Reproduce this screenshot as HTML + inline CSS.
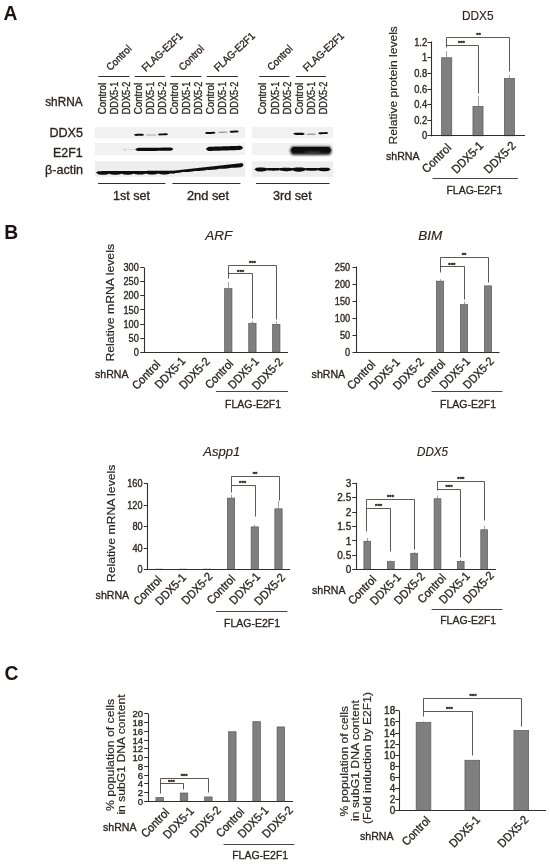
<!DOCTYPE html>
<html lang="en">
<head>
<meta charset="utf-8">
<title>Figure</title>
<style>
html,body{margin:0;padding:0;background:#fff;}
body{width:550px;height:865px;overflow:hidden;}
text{stroke:#2b2522;stroke-width:.34px;}
svg{display:block;font-family:"Liberation Sans",sans-serif;}
</style>
</head>
<body>
<svg width="550" height="865" viewBox="0 0 550 865">
<defs>
<filter id="b1" filterUnits="userSpaceOnUse" x="80" y="110" width="270" height="80"><feGaussianBlur stdDeviation="0.55"/></filter>
<filter id="b2" filterUnits="userSpaceOnUse" x="80" y="110" width="270" height="80"><feGaussianBlur stdDeviation="1.0"/></filter>
<filter id="soft" x="-2%" y="-2%" width="104%" height="104%"><feGaussianBlur stdDeviation="0.4"/></filter>
</defs>
<rect x="0" y="0" width="550" height="865" fill="#ffffff"/>
<text transform="translate(3.60 19.90)" font-size="19.3" text-anchor="start" fill="#1c1212" font-weight="bold" style="stroke-width:0px">A</text>
<text transform="translate(4.20 239.00)" font-size="19.3" text-anchor="start" fill="#1c1212" font-weight="bold" style="stroke-width:0px">B</text>
<text transform="translate(4.60 679.90)" font-size="19.3" text-anchor="start" fill="#1c1212" font-weight="bold" style="stroke-width:0px">C</text>
<text transform="translate(82.60 105.50)" font-size="12.8" text-anchor="end" fill="#2b2522" textLength="37.4" lengthAdjust="spacingAndGlyphs">shRNA</text>
<text transform="translate(83.00 137.30)" font-size="13.2" text-anchor="end" fill="#2b2522" textLength="33.6" lengthAdjust="spacingAndGlyphs">DDX5</text>
<text transform="translate(82.60 156.90)" font-size="13.2" text-anchor="end" fill="#2b2522" textLength="29.6" lengthAdjust="spacingAndGlyphs">E2F1</text>
<text transform="translate(83.00 173.60)" font-size="13.2" text-anchor="end" fill="#2b2522" textLength="38" lengthAdjust="spacingAndGlyphs">β-actin</text>
<text transform="translate(105.50 114.30) rotate(-90)" font-size="10.3" text-anchor="start" fill="#2b2522" textLength="31.4" lengthAdjust="spacingAndGlyphs">Control</text>
<text transform="translate(117.55 114.30) rotate(-90)" font-size="10.3" text-anchor="start" fill="#2b2522" textLength="32.6" lengthAdjust="spacingAndGlyphs">DDX5-1</text>
<text transform="translate(129.60 114.30) rotate(-90)" font-size="10.3" text-anchor="start" fill="#2b2522" textLength="32.6" lengthAdjust="spacingAndGlyphs">DDX5-2</text>
<text transform="translate(141.65 114.30) rotate(-90)" font-size="10.3" text-anchor="start" fill="#2b2522" textLength="31.4" lengthAdjust="spacingAndGlyphs">Control</text>
<text transform="translate(153.70 114.30) rotate(-90)" font-size="10.3" text-anchor="start" fill="#2b2522" textLength="32.6" lengthAdjust="spacingAndGlyphs">DDX5-1</text>
<text transform="translate(165.75 114.30) rotate(-90)" font-size="10.3" text-anchor="start" fill="#2b2522" textLength="32.6" lengthAdjust="spacingAndGlyphs">DDX5-2</text>
<text transform="translate(177.80 114.30) rotate(-90)" font-size="10.3" text-anchor="start" fill="#2b2522" textLength="31.4" lengthAdjust="spacingAndGlyphs">Control</text>
<text transform="translate(189.85 114.30) rotate(-90)" font-size="10.3" text-anchor="start" fill="#2b2522" textLength="32.6" lengthAdjust="spacingAndGlyphs">DDX5-1</text>
<text transform="translate(201.90 114.30) rotate(-90)" font-size="10.3" text-anchor="start" fill="#2b2522" textLength="32.6" lengthAdjust="spacingAndGlyphs">DDX5-2</text>
<text transform="translate(213.95 114.30) rotate(-90)" font-size="10.3" text-anchor="start" fill="#2b2522" textLength="31.4" lengthAdjust="spacingAndGlyphs">Control</text>
<text transform="translate(226.00 114.30) rotate(-90)" font-size="10.3" text-anchor="start" fill="#2b2522" textLength="32.6" lengthAdjust="spacingAndGlyphs">DDX5-1</text>
<text transform="translate(238.05 114.30) rotate(-90)" font-size="10.3" text-anchor="start" fill="#2b2522" textLength="32.6" lengthAdjust="spacingAndGlyphs">DDX5-2</text>
<text transform="translate(266.40 114.30) rotate(-90)" font-size="10.3" text-anchor="start" fill="#2b2522" textLength="31.4" lengthAdjust="spacingAndGlyphs">Control</text>
<text transform="translate(278.50 114.30) rotate(-90)" font-size="10.3" text-anchor="start" fill="#2b2522" textLength="32.6" lengthAdjust="spacingAndGlyphs">DDX5-1</text>
<text transform="translate(290.60 114.30) rotate(-90)" font-size="10.3" text-anchor="start" fill="#2b2522" textLength="32.6" lengthAdjust="spacingAndGlyphs">DDX5-2</text>
<text transform="translate(302.70 114.30) rotate(-90)" font-size="10.3" text-anchor="start" fill="#2b2522" textLength="31.4" lengthAdjust="spacingAndGlyphs">Control</text>
<text transform="translate(314.80 114.30) rotate(-90)" font-size="10.3" text-anchor="start" fill="#2b2522" textLength="32.6" lengthAdjust="spacingAndGlyphs">DDX5-1</text>
<text transform="translate(326.90 114.30) rotate(-90)" font-size="10.3" text-anchor="start" fill="#2b2522" textLength="32.6" lengthAdjust="spacingAndGlyphs">DDX5-2</text>
<line x1="98.30" y1="76.50" x2="129.50" y2="76.50" stroke="#332e2c" stroke-width="1.0"/>
<text transform="translate(110.60 71.30) rotate(-45.5) scale(0.92 1)" font-size="10.4" text-anchor="start" fill="#2b2522">Control</text>
<line x1="134.70" y1="76.50" x2="165.10" y2="76.50" stroke="#332e2c" stroke-width="1.0"/>
<text transform="translate(145.80 72.00) rotate(-43) scale(0.93 1)" font-size="10.4" text-anchor="start" fill="#2b2522">FLAG-E2F1</text>
<line x1="170.80" y1="76.50" x2="201.50" y2="76.50" stroke="#332e2c" stroke-width="1.0"/>
<text transform="translate(183.10 71.30) rotate(-45.5) scale(0.92 1)" font-size="10.4" text-anchor="start" fill="#2b2522">Control</text>
<line x1="206.80" y1="76.50" x2="238.00" y2="76.50" stroke="#332e2c" stroke-width="1.0"/>
<text transform="translate(217.90 72.00) rotate(-43) scale(0.93 1)" font-size="10.4" text-anchor="start" fill="#2b2522">FLAG-E2F1</text>
<line x1="259.30" y1="76.50" x2="289.50" y2="76.50" stroke="#332e2c" stroke-width="1.0"/>
<text transform="translate(271.60 71.30) rotate(-45.5) scale(0.92 1)" font-size="10.4" text-anchor="start" fill="#2b2522">Control</text>
<line x1="295.90" y1="76.50" x2="326.00" y2="76.50" stroke="#332e2c" stroke-width="1.0"/>
<text transform="translate(307.00 72.00) rotate(-43) scale(0.93 1)" font-size="10.4" text-anchor="start" fill="#2b2522">FLAG-E2F1</text>
<g filter="url(#soft)">
<rect x="94.80" y="127.20" width="150.40" height="11.00" fill="#f1f1f1"/>
<rect x="94.80" y="142.80" width="150.40" height="12.20" fill="#f2f2f2"/>
<rect x="94.80" y="161.20" width="150.40" height="15.60" fill="#eeeeee"/>
<rect x="252.20" y="127.20" width="80.80" height="11.00" fill="#f1f1f1"/>
<rect x="252.20" y="142.80" width="80.80" height="12.20" fill="#f2f2f2"/>
<rect x="252.20" y="161.20" width="80.80" height="15.60" fill="#eeeeee"/>
</g>
<path d="M134.0 134.90 L134.4 134.44 L134.8 134.19 L135.2 134.01 L135.7 133.91 L136.1 133.88 L136.5 133.88 L136.9 133.87 L137.3 133.87 L137.8 133.86 L138.2 133.86 L138.6 133.85 L139.0 133.85 L139.4 133.85 L139.8 133.84 L140.2 133.84 L140.7 133.83 L141.1 133.83 L141.5 133.83 L141.9 133.82 L142.3 133.84 L142.8 133.93 L143.2 134.10 L143.6 134.35 L144.0 134.80 L144.0 134.80 L143.6 135.26 L143.2 135.51 L142.8 135.69 L142.3 135.79 L141.9 135.82 L141.5 135.83 L141.1 135.83 L140.7 135.83 L140.2 135.84 L139.8 135.84 L139.4 135.85 L139.0 135.85 L138.6 135.85 L138.2 135.86 L137.8 135.86 L137.3 135.87 L136.9 135.87 L136.5 135.88 L136.1 135.88 L135.7 135.86 L135.2 135.77 L134.8 135.60 L134.4 135.35 L134.0 134.90Z" fill="#111" filter="url(#b1)" opacity="1"/>
<path d="M145.5 135.00 L146.0 134.73 L146.5 134.58 L146.9 134.47 L147.4 134.41 L147.9 134.40 L148.4 134.40 L148.9 134.40 L149.3 134.40 L149.8 134.40 L150.3 134.40 L150.8 134.40 L151.2 134.40 L151.7 134.40 L152.2 134.40 L152.7 134.40 L153.2 134.40 L153.6 134.40 L154.1 134.40 L154.6 134.40 L155.1 134.41 L155.6 134.47 L156.0 134.58 L156.5 134.73 L157.0 135.00 L157.0 135.00 L156.5 135.27 L156.0 135.42 L155.6 135.53 L155.1 135.59 L154.6 135.60 L154.1 135.60 L153.6 135.60 L153.2 135.60 L152.7 135.60 L152.2 135.60 L151.7 135.60 L151.2 135.60 L150.8 135.60 L150.3 135.60 L149.8 135.60 L149.3 135.60 L148.9 135.60 L148.4 135.60 L147.9 135.60 L147.4 135.59 L146.9 135.53 L146.5 135.42 L146.0 135.27 L145.5 135.00Z" fill="#a8a8a8" filter="url(#b1)" opacity="1"/>
<path d="M158.0 134.50 L158.4 134.06 L158.8 133.80 L159.2 133.63 L159.7 133.52 L160.1 133.49 L160.5 133.48 L160.9 133.46 L161.3 133.45 L161.8 133.44 L162.2 133.43 L162.6 133.41 L163.0 133.40 L163.4 133.39 L163.8 133.38 L164.2 133.36 L164.7 133.35 L165.1 133.34 L165.5 133.32 L165.9 133.31 L166.3 133.32 L166.8 133.40 L167.2 133.55 L167.6 133.78 L168.0 134.20 L168.0 134.20 L167.6 134.64 L167.2 134.90 L166.8 135.07 L166.3 135.18 L165.9 135.21 L165.5 135.22 L165.1 135.24 L164.7 135.25 L164.2 135.26 L163.8 135.27 L163.4 135.29 L163.0 135.30 L162.6 135.31 L162.2 135.32 L161.8 135.34 L161.3 135.35 L160.9 135.36 L160.5 135.38 L160.1 135.39 L159.7 135.38 L159.2 135.30 L158.8 135.15 L158.4 134.92 L158.0 134.50Z" fill="#111" filter="url(#b1)" opacity="1"/>
<path d="M205.0 133.00 L205.4 132.54 L205.9 132.28 L206.3 132.10 L206.8 131.99 L207.2 131.96 L207.6 131.95 L208.1 131.94 L208.5 131.93 L208.9 131.93 L209.4 131.92 L209.8 131.91 L210.2 131.90 L210.7 131.89 L211.1 131.88 L211.6 131.88 L212.0 131.87 L212.4 131.86 L212.9 131.85 L213.3 131.84 L213.8 131.86 L214.2 131.95 L214.6 132.11 L215.1 132.36 L215.5 132.80 L215.5 132.80 L215.1 133.26 L214.6 133.52 L214.2 133.70 L213.8 133.81 L213.3 133.84 L212.9 133.85 L212.4 133.86 L212.0 133.87 L211.6 133.88 L211.1 133.88 L210.7 133.89 L210.2 133.90 L209.8 133.91 L209.4 133.92 L208.9 133.93 L208.5 133.93 L208.1 133.94 L207.6 133.95 L207.2 133.96 L206.8 133.94 L206.3 133.85 L205.9 133.69 L205.4 133.44 L205.0 133.00Z" fill="#111" filter="url(#b1)" opacity="1"/>
<path d="M218.0 132.40 L218.4 132.09 L218.8 131.92 L219.2 131.79 L219.6 131.72 L220.0 131.69 L220.4 131.67 L220.9 131.66 L221.3 131.65 L221.7 131.64 L222.1 131.62 L222.5 131.61 L222.9 131.60 L223.3 131.59 L223.7 131.57 L224.1 131.56 L224.5 131.55 L224.9 131.54 L225.4 131.53 L225.8 131.51 L226.2 131.52 L226.6 131.57 L227.0 131.67 L227.4 131.82 L227.8 132.10 L227.8 132.10 L227.4 132.41 L227.0 132.58 L226.6 132.71 L226.2 132.78 L225.8 132.81 L225.4 132.83 L224.9 132.84 L224.5 132.85 L224.1 132.86 L223.7 132.88 L223.3 132.89 L222.9 132.90 L222.5 132.91 L222.1 132.93 L221.7 132.94 L221.3 132.95 L220.9 132.96 L220.4 132.97 L220.0 132.99 L219.6 132.98 L219.2 132.93 L218.8 132.83 L218.4 132.68 L218.0 132.40Z" fill="#9a9a9a" filter="url(#b1)" opacity="1"/>
<path d="M229.6 131.80 L230.0 131.33 L230.4 131.06 L230.8 130.87 L231.1 130.76 L231.5 130.72 L231.9 130.70 L232.3 130.68 L232.7 130.67 L233.1 130.65 L233.4 130.63 L233.8 130.62 L234.2 130.60 L234.6 130.58 L235.0 130.57 L235.3 130.55 L235.7 130.53 L236.1 130.52 L236.5 130.50 L236.9 130.48 L237.3 130.49 L237.7 130.57 L238.0 130.73 L238.4 130.96 L238.8 131.40 L238.8 131.40 L238.4 131.87 L238.0 132.14 L237.7 132.33 L237.3 132.44 L236.9 132.48 L236.5 132.50 L236.1 132.52 L235.7 132.53 L235.3 132.55 L235.0 132.57 L234.6 132.58 L234.2 132.60 L233.8 132.62 L233.4 132.63 L233.1 132.65 L232.7 132.67 L232.3 132.68 L231.9 132.70 L231.5 132.72 L231.1 132.71 L230.8 132.63 L230.4 132.47 L230.0 132.24 L229.6 131.80Z" fill="#111" filter="url(#b1)" opacity="1"/>
<path d="M293.3 133.80 L293.8 133.33 L294.3 133.07 L294.7 132.89 L295.2 132.79 L295.7 132.77 L296.2 132.78 L296.7 132.78 L297.1 132.78 L297.6 132.79 L298.1 132.79 L298.6 132.80 L299.1 132.80 L299.5 132.80 L300.0 132.81 L300.5 132.81 L301.0 132.82 L301.4 132.82 L301.9 132.82 L302.4 132.83 L302.9 132.86 L303.4 132.96 L303.8 133.15 L304.3 133.42 L304.8 133.90 L304.8 133.90 L304.3 134.37 L303.8 134.63 L303.4 134.81 L302.9 134.91 L302.4 134.93 L301.9 134.93 L301.4 134.92 L301.0 134.92 L300.5 134.91 L300.0 134.91 L299.5 134.90 L299.1 134.90 L298.6 134.90 L298.1 134.89 L297.6 134.89 L297.1 134.88 L296.7 134.88 L296.2 134.88 L295.7 134.87 L295.2 134.84 L294.7 134.74 L294.3 134.55 L293.8 134.28 L293.3 133.80Z" fill="#111" filter="url(#b1)" opacity="1"/>
<path d="M306.0 134.30 L306.4 134.00 L306.9 133.83 L307.3 133.72 L307.7 133.65 L308.1 133.63 L308.6 133.62 L309.0 133.62 L309.4 133.62 L309.8 133.61 L310.2 133.61 L310.7 133.60 L311.1 133.60 L311.5 133.60 L311.9 133.59 L312.4 133.59 L312.8 133.58 L313.2 133.58 L313.6 133.57 L314.1 133.57 L314.5 133.58 L314.9 133.64 L315.3 133.75 L315.8 133.91 L316.2 134.20 L316.2 134.20 L315.8 134.50 L315.3 134.67 L314.9 134.78 L314.5 134.85 L314.1 134.87 L313.6 134.88 L313.2 134.88 L312.8 134.88 L312.4 134.89 L311.9 134.89 L311.5 134.90 L311.1 134.90 L310.7 134.90 L310.2 134.91 L309.8 134.91 L309.4 134.92 L309.0 134.92 L308.6 134.93 L308.1 134.93 L307.7 134.92 L307.3 134.86 L306.9 134.75 L306.4 134.59 L306.0 134.30Z" fill="#a0a0a0" filter="url(#b1)" opacity="1"/>
<path d="M318.2 133.30 L318.6 132.86 L319.0 132.60 L319.4 132.43 L319.9 132.32 L320.3 132.29 L320.7 132.28 L321.1 132.26 L321.5 132.25 L321.9 132.24 L322.4 132.23 L322.8 132.21 L323.2 132.20 L323.6 132.19 L324.0 132.18 L324.4 132.16 L324.9 132.15 L325.3 132.14 L325.7 132.12 L326.1 132.11 L326.5 132.12 L326.9 132.20 L327.4 132.35 L327.8 132.58 L328.2 133.00 L328.2 133.00 L327.8 133.44 L327.4 133.70 L326.9 133.87 L326.5 133.98 L326.1 134.01 L325.7 134.02 L325.3 134.04 L324.9 134.05 L324.4 134.06 L324.0 134.07 L323.6 134.09 L323.2 134.10 L322.8 134.11 L322.4 134.12 L321.9 134.14 L321.5 134.15 L321.1 134.16 L320.7 134.18 L320.3 134.19 L319.9 134.18 L319.4 134.10 L319.0 133.95 L318.6 133.72 L318.2 133.30Z" fill="#111" filter="url(#b1)" opacity="1"/>
<path d="M123.3 149.70 L123.4 149.41 L123.5 149.24 L123.7 149.13 L123.8 149.07 L123.9 149.05 L124.0 149.05 L124.2 149.05 L124.3 149.05 L124.4 149.05 L124.5 149.05 L124.7 149.05 L124.8 149.05 L124.9 149.05 L125.0 149.05 L125.2 149.05 L125.3 149.05 L125.4 149.05 L125.5 149.05 L125.7 149.05 L125.8 149.07 L125.9 149.13 L126.0 149.24 L126.2 149.41 L126.3 149.70 L126.3 149.70 L126.2 149.99 L126.0 150.16 L125.9 150.27 L125.8 150.33 L125.7 150.35 L125.5 150.35 L125.4 150.35 L125.3 150.35 L125.2 150.35 L125.0 150.35 L124.9 150.35 L124.8 150.35 L124.7 150.35 L124.5 150.35 L124.4 150.35 L124.3 150.35 L124.2 150.35 L124.0 150.35 L123.9 150.35 L123.8 150.33 L123.7 150.27 L123.5 150.16 L123.4 149.99 L123.3 149.70Z" fill="#c4c4c4" filter="url(#b1)" opacity="1"/>
<path d="M127.0 149.60 L127.4 149.39 L127.8 149.27 L128.2 149.19 L128.7 149.14 L129.1 149.13 L129.5 149.12 L129.9 149.12 L130.3 149.12 L130.8 149.11 L131.2 149.11 L131.6 149.10 L132.0 149.10 L132.4 149.10 L132.8 149.09 L133.2 149.09 L133.7 149.08 L134.1 149.08 L134.5 149.08 L134.9 149.07 L135.3 149.08 L135.8 149.12 L136.2 149.19 L136.6 149.30 L137.0 149.50 L137.0 149.50 L136.6 149.71 L136.2 149.83 L135.8 149.91 L135.3 149.96 L134.9 149.97 L134.5 149.97 L134.1 149.98 L133.7 149.98 L133.2 149.99 L132.8 149.99 L132.4 150.00 L132.0 150.00 L131.6 150.00 L131.2 150.01 L130.8 150.01 L130.3 150.02 L129.9 150.02 L129.5 150.02 L129.1 150.03 L128.7 150.02 L128.2 149.98 L127.8 149.91 L127.4 149.80 L127.0 149.60Z" fill="#d8d8d8" filter="url(#b1)" opacity="1"/>
<path d="M135.2 149.50 L136.8 148.20 L138.4 147.87 L140.0 147.85 L141.6 147.83 L143.2 147.82 L144.8 147.80 L146.3 147.78 L147.9 147.77 L149.5 147.75 L151.1 147.73 L152.7 147.72 L154.3 147.70 L155.9 147.68 L157.5 147.67 L159.1 147.65 L160.7 147.63 L162.3 147.62 L163.8 147.60 L165.4 147.58 L167.0 147.57 L168.6 147.55 L170.2 147.53 L171.8 147.83 L173.4 149.10 L173.4 149.10 L171.8 150.40 L170.2 150.73 L168.6 150.75 L167.0 150.77 L165.4 150.78 L163.8 150.80 L162.3 150.82 L160.7 150.83 L159.1 150.85 L157.5 150.87 L155.9 150.88 L154.3 150.90 L152.7 150.92 L151.1 150.93 L149.5 150.95 L147.9 150.97 L146.3 150.98 L144.8 151.00 L143.2 151.02 L141.6 151.03 L140.0 151.05 L138.4 151.07 L136.8 150.77 L135.2 149.50Z" fill="#111" filter="url(#b1)" opacity="1"/>
<path d="M205.8 149.00 L207.4 147.47 L208.9 146.85 L210.5 146.75 L212.0 146.70 L213.6 146.65 L215.2 146.60 L216.7 146.55 L218.3 146.50 L219.8 146.45 L221.4 146.40 L222.9 146.35 L224.5 146.30 L226.1 146.25 L227.6 146.20 L229.2 146.15 L230.7 146.10 L232.3 146.05 L233.8 146.00 L235.4 145.95 L237.0 145.90 L238.5 145.85 L240.1 145.85 L241.6 146.37 L243.2 147.80 L243.2 147.80 L241.6 149.33 L240.1 149.95 L238.5 150.05 L237.0 150.10 L235.4 150.15 L233.8 150.20 L232.3 150.25 L230.7 150.30 L229.2 150.35 L227.6 150.40 L226.1 150.45 L224.5 150.50 L222.9 150.55 L221.4 150.60 L219.8 150.65 L218.3 150.70 L216.7 150.75 L215.2 150.80 L213.6 150.85 L212.0 150.90 L210.5 150.95 L208.9 150.95 L207.4 150.43 L205.8 149.00Z" fill="#111" filter="url(#b1)" opacity="1"/>
<path d="M289.8 150.70 L291.6 146.84 L293.3 146.50 L295.1 146.50 L296.8 146.50 L298.6 146.50 L300.3 146.50 L302.1 146.50 L303.8 146.50 L305.6 146.50 L307.3 146.50 L309.1 146.50 L310.8 146.50 L312.6 146.50 L314.3 146.50 L316.1 146.50 L317.8 146.50 L319.6 146.50 L321.3 146.50 L323.1 146.50 L324.8 146.50 L326.6 146.50 L328.3 146.50 L330.1 146.84 L331.8 150.70 L331.8 150.70 L330.1 154.56 L328.3 154.90 L326.6 154.90 L324.8 154.90 L323.1 154.90 L321.3 154.90 L319.6 154.90 L317.8 154.90 L316.1 154.90 L314.3 154.90 L312.6 154.90 L310.8 154.90 L309.1 154.90 L307.3 154.90 L305.6 154.90 L303.8 154.90 L302.1 154.90 L300.3 154.90 L298.6 154.90 L296.8 154.90 L295.1 154.90 L293.3 154.90 L291.6 154.56 L289.8 150.70Z" fill="#222" filter="url(#b2)" opacity="1"/>
<path d="M291.0 149.90 L292.7 147.33 L294.3 147.10 L296.0 147.10 L297.7 147.10 L299.3 147.10 L301.0 147.10 L302.7 147.10 L304.3 147.10 L306.0 147.10 L307.7 147.10 L309.3 147.10 L311.0 147.10 L312.7 147.10 L314.3 147.10 L316.0 147.10 L317.7 147.10 L319.3 147.10 L321.0 147.10 L322.7 147.10 L324.3 147.10 L326.0 147.10 L327.7 147.10 L329.3 147.33 L331.0 149.90 L331.0 149.90 L329.3 152.47 L327.7 152.70 L326.0 152.70 L324.3 152.70 L322.7 152.70 L321.0 152.70 L319.3 152.70 L317.7 152.70 L316.0 152.70 L314.3 152.70 L312.7 152.70 L311.0 152.70 L309.3 152.70 L307.7 152.70 L306.0 152.70 L304.3 152.70 L302.7 152.70 L301.0 152.70 L299.3 152.70 L297.7 152.70 L296.0 152.70 L294.3 152.70 L292.7 152.47 L291.0 149.90Z" fill="#0a0a0a" filter="url(#b1)" opacity="1"/>
<path d="M304.0 152.60 L304.8 152.37 L305.5 152.22 L306.2 152.10 L307.0 152.00 L307.8 151.92 L308.5 151.85 L309.2 151.79 L310.0 151.75 L310.8 151.73 L311.5 151.72 L312.2 151.71 L313.0 151.70 L313.8 151.69 L314.5 151.68 L315.2 151.68 L316.0 151.69 L316.8 151.71 L317.5 151.75 L318.2 151.80 L319.0 151.87 L319.8 151.95 L320.5 152.06 L321.2 152.18 L322.0 152.40 L322.0 152.40 L321.2 152.63 L320.5 152.78 L319.8 152.90 L319.0 153.00 L318.2 153.08 L317.5 153.15 L316.8 153.21 L316.0 153.25 L315.2 153.27 L314.5 153.28 L313.8 153.29 L313.0 153.30 L312.2 153.31 L311.5 153.32 L310.8 153.32 L310.0 153.31 L309.2 153.29 L308.5 153.25 L307.8 153.20 L307.0 153.13 L306.2 153.05 L305.5 152.94 L304.8 152.82 L304.0 152.60Z" fill="#555" filter="url(#b2)" opacity="1"/>
<path d="M96.0 172.53 L96.5 172.24 L97.0 171.88 L97.5 171.51 L98.0 171.14 L98.5 171.14 L99.0 171.14 L99.5 171.14 L100.0 171.13 L100.5 171.13 L101.0 171.13 L101.5 171.13 L102.0 171.12 L102.5 171.12 L103.0 171.12 L103.5 171.11 L104.0 171.11 L104.5 171.11 L105.0 171.11 L105.5 171.10 L106.0 171.10 L106.5 171.10 L107.0 171.10 L107.5 171.09 L108.0 171.09 L108.5 171.09 L109.0 171.08 L109.5 171.08 L110.0 171.08 L110.5 171.08 L111.0 171.07 L111.5 171.07 L112.0 171.07 L112.5 171.07 L113.0 171.06 L113.5 171.06 L114.0 171.06 L114.5 171.05 L115.0 171.05 L115.5 171.05 L116.0 171.05 L116.5 171.04 L117.0 171.04 L117.5 171.04 L118.0 171.03 L118.5 171.03 L119.0 171.03 L119.5 171.03 L120.0 171.02 L120.5 171.02 L121.0 171.02 L121.5 171.02 L122.0 171.01 L122.5 171.01 L123.0 171.01 L123.5 171.00 L124.0 171.00 L124.5 171.00 L125.0 171.00 L125.5 170.99 L126.0 170.99 L126.5 170.99 L127.0 170.99 L127.5 170.98 L128.0 170.98 L128.5 170.98 L129.0 170.97 L129.5 170.97 L130.0 170.97 L130.5 170.97 L131.0 170.96 L131.5 170.96 L132.0 170.96 L132.5 170.96 L133.0 170.95 L133.5 170.95 L134.0 170.95 L134.5 170.94 L135.0 170.94 L135.5 170.94 L136.0 170.94 L136.5 170.93 L137.0 170.93 L137.5 170.93 L138.0 170.93 L138.5 170.92 L139.0 170.92 L139.5 170.92 L140.0 170.91 L140.5 170.91 L141.0 170.91 L141.5 170.91 L142.0 170.90 L142.5 170.90 L143.0 170.90 L143.5 170.90 L144.0 170.89 L144.5 170.89 L145.0 170.89 L145.5 170.88 L146.0 170.88 L146.5 170.88 L147.0 170.88 L147.5 170.87 L148.0 170.87 L148.5 170.87 L149.0 170.87 L149.5 170.86 L150.0 170.86 L150.5 170.86 L151.0 170.85 L151.5 170.85 L152.0 170.85 L152.5 170.85 L153.0 170.84 L153.5 170.84 L154.0 170.84 L154.5 170.83 L155.0 170.83 L155.5 170.83 L156.0 170.83 L156.5 170.82 L157.0 170.82 L157.5 170.82 L158.0 170.82 L158.5 170.81 L159.0 170.81 L159.5 170.81 L160.0 170.80 L160.5 170.80 L161.0 170.80 L161.5 170.80 L162.0 170.79 L162.5 170.79 L163.0 170.79 L163.5 170.79 L164.0 170.78 L164.5 170.78 L165.0 170.78 L165.5 170.77 L166.0 170.77 L166.5 170.77 L167.0 170.77 L167.5 170.76 L168.0 170.76 L168.5 170.76 L169.0 170.76 L169.5 170.75 L170.0 170.75 L170.5 170.70 L171.0 170.65 L171.5 170.60 L172.0 170.85 L172.5 170.79 L173.0 170.74 L173.5 170.68 L174.0 170.63 L174.5 170.57 L175.0 170.52 L175.5 170.46 L176.0 170.41 L176.5 170.35 L177.0 170.30 L177.5 170.24 L178.0 170.19 L178.5 170.13 L179.0 170.08 L179.5 170.02 L180.0 169.97 L180.5 169.91 L181.0 169.86 L181.5 169.80 L182.0 169.75 L182.5 169.69 L183.0 169.63 L183.5 169.58 L184.0 169.52 L184.5 169.47 L185.0 169.41 L185.5 169.36 L186.0 169.30 L186.5 169.25 L187.0 169.19 L187.5 169.14 L188.0 169.08 L188.5 169.03 L189.0 168.97 L189.5 168.92 L190.0 168.86 L190.5 168.81 L191.0 168.75 L191.5 168.70 L192.0 168.64 L192.5 168.59 L193.0 168.53 L193.5 168.47 L194.0 168.42 L194.5 168.36 L195.0 168.31 L195.5 168.25 L196.0 168.20 L196.5 168.14 L197.0 168.09 L197.5 168.03 L198.0 167.98 L198.5 167.92 L199.0 167.87 L199.5 167.81 L200.0 167.76 L200.5 167.70 L201.0 167.65 L201.5 167.59 L202.0 167.54 L202.5 167.48 L203.0 167.43 L203.5 167.37 L204.0 167.31 L204.5 167.26 L205.0 167.20 L205.5 167.15 L206.0 167.09 L206.5 167.04 L207.0 166.98 L207.5 166.93 L208.0 166.87 L208.5 166.82 L209.0 166.76 L209.5 166.71 L210.0 166.65 L210.5 166.60 L211.0 166.54 L211.5 166.49 L212.0 166.43 L212.5 166.38 L213.0 166.32 L213.5 166.27 L214.0 166.21 L214.5 166.15 L215.0 166.10 L215.5 166.04 L216.0 165.99 L216.5 165.93 L217.0 165.88 L217.5 165.82 L218.0 165.77 L218.5 165.71 L219.0 165.66 L219.5 165.60 L220.0 165.55 L220.5 165.49 L221.0 165.44 L221.5 165.38 L222.0 165.33 L222.5 165.27 L223.0 165.22 L223.5 165.16 L224.0 165.11 L224.5 165.05 L225.0 164.99 L225.5 164.94 L226.0 164.88 L226.5 164.83 L227.0 164.77 L227.5 164.72 L228.0 164.66 L228.5 164.61 L229.0 164.55 L229.5 164.50 L230.0 164.44 L230.5 164.39 L231.0 164.33 L231.5 164.28 L232.0 164.22 L232.5 164.17 L233.0 164.11 L233.5 164.06 L234.0 164.00 L234.5 163.95 L235.0 163.89 L235.5 163.83 L236.0 163.78 L236.5 163.72 L237.0 163.67 L237.5 163.61 L238.0 163.56 L238.5 163.50 L239.0 163.45 L239.5 163.39 L240.0 163.34 L240.5 163.28 L241.0 163.23 L241.5 163.17 L242.0 163.12 L242.5 163.57 L243.0 164.14 L243.5 164.72 L243.5 164.97 L243.0 165.66 L242.5 166.37 L242.0 166.98 L241.5 167.06 L241.0 167.13 L240.5 167.21 L240.0 167.27 L239.5 167.33 L239.0 167.39 L238.5 167.44 L238.0 167.49 L237.5 167.53 L237.0 167.57 L236.5 167.61 L236.0 167.64 L235.5 167.66 L235.0 167.69 L234.5 167.70 L234.0 167.71 L233.5 167.72 L233.0 167.71 L232.5 167.70 L232.0 167.67 L231.5 167.71 L231.0 167.83 L230.5 167.94 L230.0 168.03 L229.5 168.12 L229.0 168.19 L228.5 168.27 L228.0 168.34 L227.5 168.40 L227.0 168.46 L226.5 168.51 L226.0 168.56 L225.5 168.61 L225.0 168.65 L224.5 168.69 L224.0 168.72 L223.5 168.75 L223.0 168.77 L222.5 168.79 L222.0 168.80 L221.5 168.81 L221.0 168.81 L220.5 168.81 L220.0 168.78 L219.5 168.70 L219.0 168.87 L218.5 168.98 L218.0 169.08 L217.5 169.17 L217.0 169.25 L216.5 169.33 L216.0 169.40 L215.5 169.47 L215.0 169.53 L214.5 169.58 L214.0 169.64 L213.5 169.68 L213.0 169.73 L212.5 169.77 L212.0 169.80 L211.5 169.83 L211.0 169.86 L210.5 169.88 L210.0 169.89 L209.5 169.91 L209.0 169.91 L208.5 169.91 L208.0 169.89 L207.5 169.86 L207.0 169.90 L206.5 170.03 L206.0 170.13 L205.5 170.22 L205.0 170.31 L204.5 170.39 L204.0 170.46 L203.5 170.53 L203.0 170.59 L202.5 170.65 L202.0 170.71 L201.5 170.76 L201.0 170.80 L200.5 170.85 L200.0 170.88 L199.5 170.91 L199.0 170.94 L198.5 170.97 L198.0 170.98 L197.5 171.00 L197.0 171.01 L196.5 171.01 L196.0 171.00 L195.5 170.98 L195.0 170.89 L194.5 171.07 L194.0 171.18 L193.5 171.28 L193.0 171.36 L192.5 171.45 L192.0 171.52 L191.5 171.59 L191.0 171.66 L190.5 171.72 L190.0 171.78 L189.5 171.83 L189.0 171.88 L188.5 171.92 L188.0 171.96 L187.5 172.00 L187.0 172.03 L186.5 172.05 L186.0 172.07 L185.5 172.09 L185.0 172.10 L184.5 172.10 L184.0 172.10 L183.5 172.09 L183.0 172.05 L182.5 172.10 L182.0 172.22 L181.5 172.32 L181.0 172.42 L180.5 172.50 L180.0 172.58 L179.5 172.65 L179.0 172.72 L178.5 172.79 L178.0 172.85 L177.5 172.90 L177.0 172.95 L176.5 173.00 L176.0 173.04 L175.5 173.08 L175.0 173.11 L174.5 173.64 L174.0 173.63 L173.5 173.62 L173.0 173.60 L172.5 173.56 L172.0 173.51 L171.5 173.65 L171.0 173.53 L170.5 173.25 L170.0 173.63 L169.5 173.81 L169.0 173.94 L168.5 174.06 L168.0 174.16 L167.5 174.24 L167.0 174.31 L166.5 174.37 L166.0 174.41 L165.5 174.45 L165.0 174.47 L164.5 174.48 L164.0 174.48 L163.5 174.47 L163.0 174.45 L162.5 174.41 L162.0 174.36 L161.5 174.31 L161.0 174.24 L160.5 174.15 L160.0 174.05 L159.5 173.93 L159.0 173.79 L158.5 173.58 L158.0 173.59 L157.5 173.79 L157.0 173.95 L156.5 174.07 L156.0 174.18 L155.5 174.27 L155.0 174.34 L154.5 174.41 L154.0 174.46 L153.5 174.50 L153.0 174.53 L152.5 174.54 L152.0 174.55 L151.5 174.54 L151.0 174.53 L150.5 174.50 L150.0 174.46 L149.5 174.40 L149.0 174.34 L148.5 174.26 L148.0 174.17 L147.5 174.06 L147.0 173.93 L146.5 173.76 L146.0 173.43 L145.5 173.77 L145.0 173.94 L144.5 174.08 L144.0 174.19 L143.5 174.29 L143.0 174.37 L142.5 174.44 L142.0 174.50 L141.5 174.55 L141.0 174.58 L140.5 174.60 L140.0 174.61 L139.5 174.61 L139.0 174.60 L138.5 174.58 L138.0 174.55 L137.5 174.50 L137.0 174.44 L136.5 174.37 L136.0 174.29 L135.5 174.19 L135.0 174.07 L134.5 173.92 L134.0 173.72 L133.5 173.72 L133.0 173.93 L132.5 174.08 L132.0 174.21 L131.5 174.31 L131.0 174.40 L130.5 174.48 L130.0 174.54 L129.5 174.59 L129.0 174.63 L128.5 174.66 L128.0 174.68 L127.5 174.68 L127.0 174.68 L126.5 174.66 L126.0 174.63 L125.5 174.59 L125.0 174.54 L124.5 174.47 L124.0 174.40 L123.5 174.31 L123.0 174.20 L122.5 174.07 L122.0 173.90 L121.5 173.57 L121.0 173.90 L120.5 174.08 L120.0 174.21 L119.5 174.33 L119.0 174.42 L118.5 174.51 L118.0 174.58 L117.5 174.63 L117.0 174.68 L116.5 174.71 L116.0 174.74 L115.5 174.75 L115.0 174.75 L114.5 174.74 L114.0 174.71 L113.5 174.68 L113.0 174.63 L112.5 174.58 L112.0 174.50 L111.5 174.42 L111.0 174.32 L110.5 174.20 L110.0 174.05 L109.5 173.85 L109.0 173.86 L108.5 174.06 L108.0 174.21 L107.5 174.34 L107.0 174.44 L106.5 174.53 L106.0 174.61 L105.5 174.67 L105.0 174.73 L104.5 174.77 L104.0 174.79 L103.5 174.81 L103.0 174.82 L102.5 174.81 L102.0 174.79 L101.5 174.77 L101.0 174.73 L100.5 174.67 L100.0 174.61 L99.5 174.53 L99.0 174.44 L98.5 174.33 L98.0 174.20 L97.5 173.67 L97.0 173.15 L96.5 172.96 L96.0 172.69Z" fill="#0c0c0c" filter="url(#b1)" opacity="1"/>
<path d="M254.3 169.25 L254.8 168.99 L255.3 168.62 L255.8 168.23 L256.3 167.80 L256.8 167.74 L257.3 167.69 L257.8 167.64 L258.3 167.61 L258.8 167.58 L259.3 167.55 L259.8 167.54 L260.3 167.53 L260.8 167.53 L261.3 167.53 L261.8 167.54 L262.3 167.56 L262.8 167.59 L263.3 167.62 L263.8 167.66 L264.3 167.71 L264.8 167.77 L265.3 167.83 L265.8 167.91 L266.3 167.99 L266.8 168.10 L267.3 168.17 L267.8 168.13 L268.3 168.10 L268.8 168.08 L269.3 168.06 L269.8 168.04 L270.3 168.02 L270.8 168.01 L271.3 168.00 L271.8 167.99 L272.3 167.98 L272.8 167.98 L273.3 167.98 L273.8 167.98 L274.3 167.98 L274.8 167.98 L275.3 167.99 L275.8 168.00 L276.3 168.01 L276.8 168.03 L277.3 168.05 L277.8 168.07 L278.3 168.09 L278.8 168.12 L279.3 168.15 L279.8 168.20 L280.3 168.09 L280.8 168.02 L281.3 167.96 L281.8 167.91 L282.3 167.86 L282.8 167.82 L283.3 167.79 L283.8 167.76 L284.3 167.74 L284.8 167.72 L285.3 167.71 L285.8 167.71 L286.3 167.71 L286.8 167.71 L287.3 167.72 L287.8 167.73 L288.3 167.75 L288.8 167.78 L289.3 167.81 L289.8 167.84 L290.3 167.88 L290.8 167.93 L291.3 167.99 L291.8 168.05 L292.3 168.13 L292.8 168.09 L293.3 167.97 L293.8 167.87 L294.3 167.78 L294.8 167.71 L295.3 167.65 L295.8 167.59 L296.3 167.55 L296.8 167.51 L297.3 167.48 L297.8 167.46 L298.3 167.44 L298.8 167.44 L299.3 167.44 L299.8 167.45 L300.3 167.47 L300.8 167.49 L301.3 167.53 L301.8 167.57 L302.3 167.62 L302.8 167.68 L303.3 167.75 L303.8 167.82 L304.3 167.92 L304.8 168.02 L305.3 168.20 L305.8 168.14 L306.3 168.10 L306.8 168.07 L307.3 168.04 L307.8 168.02 L308.3 168.00 L308.8 167.98 L309.3 167.96 L309.8 167.95 L310.3 167.94 L310.8 167.93 L311.3 167.93 L311.8 167.93 L312.3 167.93 L312.8 167.94 L313.3 167.95 L313.8 167.96 L314.3 167.97 L314.8 167.99 L315.3 168.01 L315.8 168.03 L316.3 168.05 L316.8 168.08 L317.3 168.12 L317.8 168.16 L318.3 168.12 L318.8 168.04 L319.3 167.97 L319.8 167.91 L320.3 167.86 L320.8 167.81 L321.3 167.77 L321.8 167.74 L322.3 167.71 L322.8 167.69 L323.3 167.67 L323.8 167.66 L324.3 167.66 L324.8 167.66 L325.3 167.67 L325.8 167.68 L326.3 167.70 L326.8 167.72 L327.3 167.75 L327.8 167.79 L328.3 167.83 L328.8 167.88 L329.3 168.28 L329.8 168.65 L330.3 168.99 L330.8 169.24 L330.8 169.35 L330.3 169.59 L329.8 169.95 L329.3 170.37 L328.8 170.84 L328.3 170.94 L327.8 171.02 L327.3 171.09 L326.8 171.15 L326.3 171.20 L325.8 171.24 L325.3 171.26 L324.8 171.28 L324.3 171.28 L323.8 171.27 L323.3 171.25 L322.8 171.22 L322.3 171.18 L321.8 171.12 L321.3 171.06 L320.8 170.98 L320.3 170.89 L319.8 170.79 L319.3 170.67 L318.8 170.53 L318.3 170.35 L317.8 170.28 L317.3 170.36 L316.8 170.43 L316.3 170.49 L315.8 170.54 L315.3 170.59 L314.8 170.63 L314.3 170.66 L313.8 170.69 L313.3 170.71 L312.8 170.73 L312.3 170.74 L311.8 170.74 L311.3 170.74 L310.8 170.73 L310.3 170.72 L309.8 170.70 L309.3 170.68 L308.8 170.65 L308.3 170.61 L307.8 170.57 L307.3 170.52 L306.8 170.46 L306.3 170.40 L305.8 170.32 L305.3 170.20 L304.8 170.55 L304.3 170.77 L303.8 170.95 L303.3 171.11 L302.8 171.24 L302.3 171.36 L301.8 171.46 L301.3 171.55 L300.8 171.62 L300.3 171.67 L299.8 171.71 L299.3 171.73 L298.8 171.73 L298.3 171.72 L297.8 171.69 L297.3 171.64 L296.8 171.58 L296.3 171.51 L295.8 171.41 L295.3 171.30 L294.8 171.18 L294.3 171.03 L293.8 170.86 L293.3 170.67 L292.8 170.42 L292.3 170.34 L291.8 170.50 L291.3 170.63 L290.8 170.74 L290.3 170.83 L289.8 170.91 L289.3 170.99 L288.8 171.05 L288.3 171.10 L287.8 171.13 L287.3 171.16 L286.8 171.18 L286.3 171.19 L285.8 171.19 L285.3 171.17 L284.8 171.15 L284.3 171.12 L283.8 171.07 L283.3 171.02 L282.8 170.95 L282.3 170.87 L281.8 170.79 L281.3 170.69 L280.8 170.57 L280.3 170.43 L279.8 170.20 L279.3 170.30 L278.8 170.37 L278.3 170.42 L277.8 170.47 L277.3 170.51 L276.8 170.54 L276.3 170.57 L275.8 170.60 L275.3 170.62 L274.8 170.63 L274.3 170.64 L273.8 170.65 L273.3 170.65 L272.8 170.65 L272.3 170.64 L271.8 170.62 L271.3 170.61 L270.8 170.58 L270.3 170.56 L269.8 170.52 L269.3 170.49 L268.8 170.44 L268.3 170.40 L267.8 170.34 L267.3 170.26 L266.8 170.39 L266.3 170.61 L265.8 170.79 L265.3 170.93 L264.8 171.06 L264.3 171.17 L263.8 171.27 L263.3 171.35 L262.8 171.42 L262.3 171.47 L261.8 171.51 L261.3 171.54 L260.8 171.55 L260.3 171.55 L259.8 171.53 L259.3 171.50 L258.8 171.45 L258.3 171.39 L257.8 171.31 L257.3 171.22 L256.8 171.12 L256.3 171.00 L255.8 170.47 L255.3 170.00 L254.8 169.60 L254.3 169.34Z" fill="#0c0c0c" filter="url(#b1)" opacity="1"/>
<line x1="98.00" y1="183.50" x2="165.40" y2="183.50" stroke="#332e2c" stroke-width="1.0"/>
<text transform="translate(131.50 200.00)" font-size="13" text-anchor="middle" fill="#2b2522" textLength="37.2" lengthAdjust="spacingAndGlyphs">1st set</text>
<line x1="172.40" y1="183.50" x2="240.40" y2="183.50" stroke="#332e2c" stroke-width="1.0"/>
<text transform="translate(208.00 200.00)" font-size="13" text-anchor="middle" fill="#2b2522" textLength="42.2" lengthAdjust="spacingAndGlyphs">2nd set</text>
<line x1="256.00" y1="183.50" x2="329.60" y2="183.50" stroke="#332e2c" stroke-width="1.0"/>
<text transform="translate(292.30 200.00)" font-size="13" text-anchor="middle" fill="#2b2522" textLength="38.8" lengthAdjust="spacingAndGlyphs">3rd set</text>
<text transform="translate(477.80 20.40)" font-size="13" text-anchor="middle" fill="#2b2522" textLength="31.6" lengthAdjust="spacingAndGlyphs" style="stroke-width:0.15px">DDX5</text>
<line x1="446.50" y1="57.41" x2="446.50" y2="51.17" stroke="#8a8a8a" stroke-width="0.8"/>
<rect x="441.65" y="57.76" width="10.10" height="78.04" fill="#7f7f7f" stroke="#585858" stroke-width="0.7"/>
<line x1="478.50" y1="106.00" x2="478.50" y2="95.86" stroke="#8a8a8a" stroke-width="0.8"/>
<rect x="472.95" y="106.35" width="10.10" height="29.45" fill="#7f7f7f" stroke="#585858" stroke-width="0.7"/>
<line x1="509.50" y1="78.08" x2="509.50" y2="75.35" stroke="#8a8a8a" stroke-width="0.8"/>
<rect x="504.35" y="78.43" width="10.10" height="57.37" fill="#7f7f7f" stroke="#585858" stroke-width="0.7"/>
<line x1="431.50" y1="41.50" x2="431.50" y2="136.30" stroke="#332e2c" stroke-width="1.1"/>
<line x1="430.70" y1="135.50" x2="525.00" y2="135.50" stroke="#332e2c" stroke-width="1.1"/>
<line x1="427.40" y1="135.50" x2="431.20" y2="135.50" stroke="#332e2c" stroke-width="1.0"/>
<text transform="translate(427.20 139.47) scale(0.92 1)" font-size="10.2" text-anchor="end" fill="#2b2522">0</text>
<line x1="427.40" y1="120.50" x2="431.20" y2="120.50" stroke="#332e2c" stroke-width="1.0"/>
<text transform="translate(427.20 123.87) scale(0.92 1)" font-size="10.2" text-anchor="end" fill="#2b2522">0.2</text>
<line x1="427.40" y1="104.50" x2="431.20" y2="104.50" stroke="#332e2c" stroke-width="1.0"/>
<text transform="translate(427.20 108.27) scale(0.92 1)" font-size="10.2" text-anchor="end" fill="#2b2522">0.4</text>
<line x1="427.40" y1="89.50" x2="431.20" y2="89.50" stroke="#332e2c" stroke-width="1.0"/>
<text transform="translate(427.20 92.67) scale(0.92 1)" font-size="10.2" text-anchor="end" fill="#2b2522">0.6</text>
<line x1="427.40" y1="73.50" x2="431.20" y2="73.50" stroke="#332e2c" stroke-width="1.0"/>
<text transform="translate(427.20 77.07) scale(0.92 1)" font-size="10.2" text-anchor="end" fill="#2b2522">0.8</text>
<line x1="427.40" y1="57.50" x2="431.20" y2="57.50" stroke="#332e2c" stroke-width="1.0"/>
<text transform="translate(427.20 61.47) scale(0.92 1)" font-size="10.2" text-anchor="end" fill="#2b2522">1</text>
<line x1="427.40" y1="42.50" x2="431.20" y2="42.50" stroke="#332e2c" stroke-width="1.0"/>
<text transform="translate(427.20 45.87) scale(0.92 1)" font-size="10.2" text-anchor="end" fill="#2b2522">1.2</text>
<polyline points="446.50,47.50 446.50,37.50 509.50,37.50 509.50,71.50" fill="none" stroke="#332e2c" stroke-width="0.8"/>
<polyline points="446.50,45.50 478.50,45.50 478.50,93.50" fill="none" stroke="#332e2c" stroke-width="0.8"/>
<text transform="translate(478.60 36.50)" font-size="6" text-anchor="middle" fill="#2b2522" font-weight="bold">**</text>
<text transform="translate(461.40 45.00)" font-size="6" text-anchor="middle" fill="#2b2522" font-weight="bold">***</text>
<text transform="translate(396.80 85.30) rotate(-90)" font-size="10.8" text-anchor="middle" fill="#2b2522" textLength="118.4" lengthAdjust="spacingAndGlyphs" style="stroke-width:0.18px">Relative protein levels</text>
<text transform="translate(386.00 160.40)" font-size="11.6" text-anchor="start" fill="#2b2522" textLength="33.6" lengthAdjust="spacingAndGlyphs">shRNA</text>
<text transform="translate(452.00 148.60) rotate(-45) scale(0.92 1)" font-size="12" text-anchor="end" fill="#2b2522">Control</text>
<text transform="translate(484.20 146.50) rotate(-45) scale(0.92 1)" font-size="12" text-anchor="end" fill="#2b2522">DDX5-1</text>
<text transform="translate(516.50 146.50) rotate(-45) scale(0.92 1)" font-size="12" text-anchor="end" fill="#2b2522">DDX5-2</text>
<line x1="432.50" y1="178.50" x2="517.80" y2="178.50" stroke="#332e2c" stroke-width="0.9"/>
<text transform="translate(474.40 194.00)" font-size="11.8" text-anchor="middle" fill="#2b2522" textLength="56" lengthAdjust="spacingAndGlyphs">FLAG-E2F1</text>
<text transform="translate(218.70 240.00)" font-size="13.5" text-anchor="middle" fill="#2b2522" font-style="italic" style="stroke-width:0.15px">ARF</text>
<rect x="152.35" y="352.27" width="7.30" height="-0.07" fill="#7f7f7f" stroke="#585858" stroke-width="0.7"/>
<rect x="176.35" y="352.27" width="7.30" height="-0.07" fill="#7f7f7f" stroke="#585858" stroke-width="0.7"/>
<rect x="200.35" y="352.27" width="7.30" height="-0.07" fill="#7f7f7f" stroke="#585858" stroke-width="0.7"/>
<line x1="228.50" y1="288.26" x2="228.50" y2="282.06" stroke="#8a8a8a" stroke-width="0.8"/>
<rect x="224.65" y="288.61" width="7.30" height="63.59" fill="#7f7f7f" stroke="#585858" stroke-width="0.7"/>
<line x1="252.50" y1="322.91" x2="252.50" y2="320.93" stroke="#8a8a8a" stroke-width="0.8"/>
<rect x="248.75" y="323.26" width="7.30" height="28.94" fill="#7f7f7f" stroke="#585858" stroke-width="0.7"/>
<line x1="276.50" y1="324.03" x2="276.50" y2="321.22" stroke="#8a8a8a" stroke-width="0.8"/>
<rect x="272.65" y="324.38" width="7.30" height="27.82" fill="#7f7f7f" stroke="#585858" stroke-width="0.7"/>
<line x1="144.50" y1="267.50" x2="144.50" y2="352.70" stroke="#332e2c" stroke-width="1.1"/>
<line x1="143.50" y1="352.50" x2="288.00" y2="352.50" stroke="#332e2c" stroke-width="1.1"/>
<line x1="140.20" y1="352.50" x2="144.00" y2="352.50" stroke="#332e2c" stroke-width="1.0"/>
<text transform="translate(138.80 355.80) scale(0.92 1)" font-size="10" text-anchor="end" fill="#2b2522">0</text>
<line x1="140.20" y1="338.50" x2="144.00" y2="338.50" stroke="#332e2c" stroke-width="1.0"/>
<text transform="translate(138.80 341.72) scale(0.92 1)" font-size="10" text-anchor="end" fill="#2b2522">50</text>
<line x1="140.20" y1="324.50" x2="144.00" y2="324.50" stroke="#332e2c" stroke-width="1.0"/>
<text transform="translate(138.80 327.63) scale(0.92 1)" font-size="10" text-anchor="end" fill="#2b2522">100</text>
<line x1="140.20" y1="309.50" x2="144.00" y2="309.50" stroke="#332e2c" stroke-width="1.0"/>
<text transform="translate(138.80 313.55) scale(0.92 1)" font-size="10" text-anchor="end" fill="#2b2522">150</text>
<line x1="140.20" y1="295.50" x2="144.00" y2="295.50" stroke="#332e2c" stroke-width="1.0"/>
<text transform="translate(138.80 299.47) scale(0.92 1)" font-size="10" text-anchor="end" fill="#2b2522">200</text>
<line x1="140.20" y1="281.50" x2="144.00" y2="281.50" stroke="#332e2c" stroke-width="1.0"/>
<text transform="translate(138.80 285.38) scale(0.92 1)" font-size="10" text-anchor="end" fill="#2b2522">250</text>
<line x1="140.20" y1="267.50" x2="144.00" y2="267.50" stroke="#332e2c" stroke-width="1.0"/>
<text transform="translate(138.80 271.30) scale(0.92 1)" font-size="10" text-anchor="end" fill="#2b2522">300</text>
<polyline points="228.50,278.50 228.50,265.50 276.50,265.50 276.50,319.50" fill="none" stroke="#332e2c" stroke-width="0.8"/>
<polyline points="228.50,273.50 252.50,273.50 252.50,318.50" fill="none" stroke="#332e2c" stroke-width="0.8"/>
<text transform="translate(252.40 265.20)" font-size="6" text-anchor="middle" fill="#2b2522" font-weight="bold">***</text>
<text transform="translate(240.60 274.40)" font-size="6" text-anchor="middle" fill="#2b2522" font-weight="bold">***</text>
<text transform="translate(113.80 302.80) rotate(-90)" font-size="10.8" text-anchor="middle" fill="#2b2522" textLength="117.6" lengthAdjust="spacingAndGlyphs" style="stroke-width:0.18px">Relative mRNA levels</text>
<text transform="translate(95.00 378.00)" font-size="11.6" text-anchor="start" fill="#2b2522" textLength="33.6" lengthAdjust="spacingAndGlyphs">shRNA</text>
<text transform="translate(161.00 365.00) rotate(-46.5) scale(0.92 1)" font-size="11.8" text-anchor="end" fill="#2b2522">Control</text>
<text transform="translate(186.20 361.60) rotate(-46.5) scale(0.92 1)" font-size="11.8" text-anchor="end" fill="#2b2522">DDX5-1</text>
<text transform="translate(210.60 362.10) rotate(-46.5) scale(0.92 1)" font-size="11.8" text-anchor="end" fill="#2b2522">DDX5-2</text>
<text transform="translate(234.00 364.20) rotate(-46.5) scale(0.92 1)" font-size="11.8" text-anchor="end" fill="#2b2522">Control</text>
<text transform="translate(259.60 361.80) rotate(-46.5) scale(0.92 1)" font-size="11.8" text-anchor="end" fill="#2b2522">DDX5-1</text>
<text transform="translate(283.60 362.60) rotate(-46.5) scale(0.92 1)" font-size="11.8" text-anchor="end" fill="#2b2522">DDX5-2</text>
<line x1="216.00" y1="391.50" x2="288.00" y2="391.50" stroke="#332e2c" stroke-width="0.9"/>
<text transform="translate(253.00 408.00)" font-size="11.8" text-anchor="middle" fill="#2b2522" textLength="56" lengthAdjust="spacingAndGlyphs">FLAG-E2F1</text>
<text transform="translate(430.20 240.00)" font-size="13.5" text-anchor="middle" fill="#2b2522" font-style="italic" style="stroke-width:0.15px">BIM</text>
<rect x="364.35" y="352.21" width="7.30" height="-0.01" fill="#7f7f7f" stroke="#585858" stroke-width="0.7"/>
<rect x="388.35" y="352.21" width="7.30" height="-0.01" fill="#7f7f7f" stroke="#585858" stroke-width="0.7"/>
<rect x="412.35" y="352.21" width="7.30" height="-0.01" fill="#7f7f7f" stroke="#585858" stroke-width="0.7"/>
<line x1="440.50" y1="280.80" x2="440.50" y2="279.10" stroke="#8a8a8a" stroke-width="0.8"/>
<rect x="436.35" y="281.15" width="7.30" height="71.05" fill="#7f7f7f" stroke="#585858" stroke-width="0.7"/>
<line x1="464.50" y1="304.26" x2="464.50" y2="301.54" stroke="#8a8a8a" stroke-width="0.8"/>
<rect x="460.35" y="304.61" width="7.30" height="47.59" fill="#7f7f7f" stroke="#585858" stroke-width="0.7"/>
<line x1="488.50" y1="285.56" x2="488.50" y2="284.88" stroke="#8a8a8a" stroke-width="0.8"/>
<rect x="484.35" y="285.91" width="7.30" height="66.29" fill="#7f7f7f" stroke="#585858" stroke-width="0.7"/>
<line x1="356.50" y1="266.50" x2="356.50" y2="352.70" stroke="#332e2c" stroke-width="1.1"/>
<line x1="355.80" y1="352.50" x2="499.50" y2="352.50" stroke="#332e2c" stroke-width="1.1"/>
<line x1="352.50" y1="352.50" x2="356.30" y2="352.50" stroke="#332e2c" stroke-width="1.0"/>
<text transform="translate(350.20 355.80) scale(0.92 1)" font-size="10" text-anchor="end" fill="#2b2522">0</text>
<line x1="352.50" y1="335.50" x2="356.30" y2="335.50" stroke="#332e2c" stroke-width="1.0"/>
<text transform="translate(350.20 338.80) scale(0.92 1)" font-size="10" text-anchor="end" fill="#2b2522">50</text>
<line x1="352.50" y1="318.50" x2="356.30" y2="318.50" stroke="#332e2c" stroke-width="1.0"/>
<text transform="translate(350.20 321.80) scale(0.92 1)" font-size="10" text-anchor="end" fill="#2b2522">100</text>
<line x1="352.50" y1="301.50" x2="356.30" y2="301.50" stroke="#332e2c" stroke-width="1.0"/>
<text transform="translate(350.20 304.80) scale(0.92 1)" font-size="10" text-anchor="end" fill="#2b2522">150</text>
<line x1="352.50" y1="284.50" x2="356.30" y2="284.50" stroke="#332e2c" stroke-width="1.0"/>
<text transform="translate(350.20 287.80) scale(0.92 1)" font-size="10" text-anchor="end" fill="#2b2522">200</text>
<line x1="352.50" y1="267.50" x2="356.30" y2="267.50" stroke="#332e2c" stroke-width="1.0"/>
<text transform="translate(350.20 270.80) scale(0.92 1)" font-size="10" text-anchor="end" fill="#2b2522">250</text>
<polyline points="440.50,272.50 440.50,257.50 488.50,257.50 488.50,282.50" fill="none" stroke="#332e2c" stroke-width="0.8"/>
<polyline points="440.50,266.50 464.50,266.50 464.50,299.50" fill="none" stroke="#332e2c" stroke-width="0.8"/>
<text transform="translate(464.00 257.40)" font-size="6" text-anchor="middle" fill="#2b2522" font-weight="bold">**</text>
<text transform="translate(451.80 266.80)" font-size="6" text-anchor="middle" fill="#2b2522" font-weight="bold">***</text>
<text transform="translate(311.60 378.00)" font-size="11.6" text-anchor="start" fill="#2b2522" textLength="33.6" lengthAdjust="spacingAndGlyphs">shRNA</text>
<text transform="translate(376.00 365.00) rotate(-46.5) scale(0.92 1)" font-size="11.8" text-anchor="end" fill="#2b2522">Control</text>
<text transform="translate(400.60 362.60) rotate(-46.5) scale(0.92 1)" font-size="11.8" text-anchor="end" fill="#2b2522">DDX5-1</text>
<text transform="translate(424.60 362.60) rotate(-46.5) scale(0.92 1)" font-size="11.8" text-anchor="end" fill="#2b2522">DDX5-2</text>
<text transform="translate(446.00 364.20) rotate(-46.5) scale(0.92 1)" font-size="11.8" text-anchor="end" fill="#2b2522">Control</text>
<text transform="translate(471.00 361.80) rotate(-46.5) scale(0.92 1)" font-size="11.8" text-anchor="end" fill="#2b2522">DDX5-1</text>
<text transform="translate(494.60 361.80) rotate(-46.5) scale(0.92 1)" font-size="11.8" text-anchor="end" fill="#2b2522">DDX5-2</text>
<line x1="431.60" y1="391.50" x2="502.40" y2="391.50" stroke="#332e2c" stroke-width="0.9"/>
<text transform="translate(468.00 408.00)" font-size="11.8" text-anchor="middle" fill="#2b2522" textLength="56" lengthAdjust="spacingAndGlyphs">FLAG-E2F1</text>
<text transform="translate(221.80 455.60)" font-size="13" text-anchor="middle" fill="#2b2522" font-style="italic" style="stroke-width:0.15px">Aspp1</text>
<rect x="155.35" y="569.15" width="7.30" height="0.45" fill="#7f7f7f" stroke="#585858" stroke-width="0.7"/>
<rect x="179.35" y="569.15" width="7.30" height="0.45" fill="#7f7f7f" stroke="#585858" stroke-width="0.7"/>
<rect x="203.35" y="569.15" width="7.30" height="0.45" fill="#7f7f7f" stroke="#585858" stroke-width="0.7"/>
<line x1="231.50" y1="497.74" x2="231.50" y2="494.53" stroke="#8a8a8a" stroke-width="0.8"/>
<rect x="227.35" y="498.09" width="7.30" height="71.51" fill="#7f7f7f" stroke="#585858" stroke-width="0.7"/>
<line x1="254.50" y1="526.54" x2="254.50" y2="524.93" stroke="#8a8a8a" stroke-width="0.8"/>
<rect x="251.15" y="526.89" width="7.30" height="42.71" fill="#7f7f7f" stroke="#585858" stroke-width="0.7"/>
<line x1="278.50" y1="508.47" x2="278.50" y2="500.96" stroke="#8a8a8a" stroke-width="0.8"/>
<rect x="274.85" y="508.82" width="7.30" height="60.78" fill="#7f7f7f" stroke="#585858" stroke-width="0.7"/>
<line x1="147.50" y1="483.10" x2="147.50" y2="570.10" stroke="#332e2c" stroke-width="1.1"/>
<line x1="147.10" y1="569.50" x2="290.00" y2="569.50" stroke="#332e2c" stroke-width="1.1"/>
<line x1="143.80" y1="569.50" x2="147.60" y2="569.50" stroke="#332e2c" stroke-width="1.0"/>
<text transform="translate(142.60 573.20) scale(0.92 1)" font-size="10" text-anchor="end" fill="#2b2522">0</text>
<line x1="143.80" y1="548.50" x2="147.60" y2="548.50" stroke="#332e2c" stroke-width="1.0"/>
<text transform="translate(142.60 551.75) scale(0.92 1)" font-size="10" text-anchor="end" fill="#2b2522">40</text>
<line x1="143.80" y1="526.50" x2="147.60" y2="526.50" stroke="#332e2c" stroke-width="1.0"/>
<text transform="translate(142.60 530.30) scale(0.92 1)" font-size="10" text-anchor="end" fill="#2b2522">80</text>
<line x1="143.80" y1="505.50" x2="147.60" y2="505.50" stroke="#332e2c" stroke-width="1.0"/>
<text transform="translate(142.60 508.85) scale(0.92 1)" font-size="10" text-anchor="end" fill="#2b2522">120</text>
<line x1="143.80" y1="483.50" x2="147.60" y2="483.50" stroke="#332e2c" stroke-width="1.0"/>
<text transform="translate(142.60 487.40) scale(0.92 1)" font-size="10" text-anchor="end" fill="#2b2522">160</text>
<polyline points="231.50,492.50 231.50,476.50 279.50,476.50 279.50,500.50" fill="none" stroke="#332e2c" stroke-width="0.8"/>
<polyline points="231.50,485.50 255.50,485.50 255.50,516.50" fill="none" stroke="#332e2c" stroke-width="0.8"/>
<text transform="translate(255.00 476.20)" font-size="6" text-anchor="middle" fill="#2b2522" font-weight="bold">**</text>
<text transform="translate(242.60 485.20)" font-size="6" text-anchor="middle" fill="#2b2522" font-weight="bold">***</text>
<text transform="translate(114.80 523.40) rotate(-90)" font-size="10.8" text-anchor="middle" fill="#2b2522" textLength="117.6" lengthAdjust="spacingAndGlyphs" style="stroke-width:0.18px">Relative mRNA levels</text>
<text transform="translate(95.60 598.60)" font-size="11.6" text-anchor="start" fill="#2b2522" textLength="33.6" lengthAdjust="spacingAndGlyphs">shRNA</text>
<text transform="translate(162.50 580.60) rotate(-46.5) scale(0.92 1)" font-size="11.8" text-anchor="end" fill="#2b2522">Control</text>
<text transform="translate(186.90 578.00) rotate(-46.5) scale(0.92 1)" font-size="11.8" text-anchor="end" fill="#2b2522">DDX5-1</text>
<text transform="translate(213.10 577.20) rotate(-46.5) scale(0.92 1)" font-size="11.8" text-anchor="end" fill="#2b2522">DDX5-2</text>
<text transform="translate(235.80 579.60) rotate(-46.5) scale(0.92 1)" font-size="11.8" text-anchor="end" fill="#2b2522">Control</text>
<text transform="translate(260.80 577.20) rotate(-46.5) scale(0.92 1)" font-size="11.8" text-anchor="end" fill="#2b2522">DDX5-1</text>
<text transform="translate(285.80 578.00) rotate(-46.5) scale(0.92 1)" font-size="11.8" text-anchor="end" fill="#2b2522">DDX5-2</text>
<line x1="216.00" y1="611.50" x2="287.40" y2="611.50" stroke="#332e2c" stroke-width="0.9"/>
<text transform="translate(252.00 627.00)" font-size="11.8" text-anchor="middle" fill="#2b2522" textLength="56" lengthAdjust="spacingAndGlyphs">FLAG-E2F1</text>
<text transform="translate(432.50 455.60)" font-size="13" text-anchor="middle" fill="#2b2522" font-style="italic" textLength="31" lengthAdjust="spacingAndGlyphs" style="stroke-width:0.15px">DDX5</text>
<line x1="367.50" y1="540.90" x2="367.50" y2="538.03" stroke="#8a8a8a" stroke-width="0.8"/>
<rect x="363.90" y="541.25" width="6.80" height="28.35" fill="#7f7f7f" stroke="#585858" stroke-width="0.7"/>
<line x1="390.50" y1="561.28" x2="390.50" y2="560.42" stroke="#8a8a8a" stroke-width="0.8"/>
<rect x="387.40" y="561.63" width="6.80" height="7.97" fill="#7f7f7f" stroke="#585858" stroke-width="0.7"/>
<line x1="414.50" y1="552.95" x2="414.50" y2="552.09" stroke="#8a8a8a" stroke-width="0.8"/>
<rect x="410.80" y="553.30" width="6.80" height="16.30" fill="#7f7f7f" stroke="#585858" stroke-width="0.7"/>
<line x1="437.50" y1="498.42" x2="437.50" y2="495.55" stroke="#8a8a8a" stroke-width="0.8"/>
<rect x="434.10" y="498.77" width="6.80" height="70.83" fill="#7f7f7f" stroke="#585858" stroke-width="0.7"/>
<line x1="460.50" y1="560.99" x2="460.50" y2="559.56" stroke="#8a8a8a" stroke-width="0.8"/>
<rect x="457.30" y="561.34" width="6.80" height="8.26" fill="#7f7f7f" stroke="#585858" stroke-width="0.7"/>
<line x1="484.50" y1="529.42" x2="484.50" y2="525.69" stroke="#8a8a8a" stroke-width="0.8"/>
<rect x="480.80" y="529.77" width="6.80" height="39.83" fill="#7f7f7f" stroke="#585858" stroke-width="0.7"/>
<line x1="356.50" y1="482.90" x2="356.50" y2="570.10" stroke="#332e2c" stroke-width="1.1"/>
<line x1="355.50" y1="569.50" x2="496.00" y2="569.50" stroke="#332e2c" stroke-width="1.1"/>
<line x1="352.20" y1="569.50" x2="356.00" y2="569.50" stroke="#332e2c" stroke-width="1.0"/>
<text transform="translate(351.20 573.20) scale(1.0 1)" font-size="10" text-anchor="end" fill="#2b2522">0</text>
<line x1="352.20" y1="555.50" x2="356.00" y2="555.50" stroke="#332e2c" stroke-width="1.0"/>
<text transform="translate(351.20 558.85) scale(1.0 1)" font-size="10" text-anchor="end" fill="#2b2522">0.5</text>
<line x1="352.20" y1="540.50" x2="356.00" y2="540.50" stroke="#332e2c" stroke-width="1.0"/>
<text transform="translate(351.20 544.50) scale(1.0 1)" font-size="10" text-anchor="end" fill="#2b2522">1</text>
<line x1="352.20" y1="526.50" x2="356.00" y2="526.50" stroke="#332e2c" stroke-width="1.0"/>
<text transform="translate(351.20 530.15) scale(1.0 1)" font-size="10" text-anchor="end" fill="#2b2522">1.5</text>
<line x1="352.20" y1="512.50" x2="356.00" y2="512.50" stroke="#332e2c" stroke-width="1.0"/>
<text transform="translate(351.20 515.80) scale(1.0 1)" font-size="10" text-anchor="end" fill="#2b2522">2</text>
<line x1="352.20" y1="497.50" x2="356.00" y2="497.50" stroke="#332e2c" stroke-width="1.0"/>
<text transform="translate(351.20 501.45) scale(1.0 1)" font-size="10" text-anchor="end" fill="#2b2522">2.5</text>
<line x1="352.20" y1="483.50" x2="356.00" y2="483.50" stroke="#332e2c" stroke-width="1.0"/>
<text transform="translate(351.20 487.10) scale(1.0 1)" font-size="10" text-anchor="end" fill="#2b2522">3</text>
<polyline points="366.50,531.50 366.50,499.50 414.50,499.50 414.50,549.50" fill="none" stroke="#332e2c" stroke-width="0.8"/>
<polyline points="366.50,508.50 390.50,508.50 390.50,551.50" fill="none" stroke="#332e2c" stroke-width="0.8"/>
<text transform="translate(390.50 498.80)" font-size="6" text-anchor="middle" fill="#2b2522" font-weight="bold">***</text>
<text transform="translate(378.60 508.40)" font-size="6" text-anchor="middle" fill="#2b2522" font-weight="bold">***</text>
<polyline points="437.50,490.50 437.50,481.50 484.50,481.50 484.50,520.50" fill="none" stroke="#332e2c" stroke-width="0.8"/>
<polyline points="437.50,489.50 460.50,489.50 460.50,557.50" fill="none" stroke="#332e2c" stroke-width="0.8"/>
<text transform="translate(460.80 480.80)" font-size="6" text-anchor="middle" fill="#2b2522" font-weight="bold">***</text>
<text transform="translate(449.00 489.20)" font-size="6" text-anchor="middle" fill="#2b2522" font-weight="bold">***</text>
<text transform="translate(312.00 593.60)" font-size="11.6" text-anchor="start" fill="#2b2522" textLength="33.6" lengthAdjust="spacingAndGlyphs">shRNA</text>
<text transform="translate(377.00 580.00) rotate(-46.5) scale(0.92 1)" font-size="11.8" text-anchor="end" fill="#2b2522">Control</text>
<text transform="translate(401.60 577.80) rotate(-46.5) scale(0.92 1)" font-size="11.8" text-anchor="end" fill="#2b2522">DDX5-1</text>
<text transform="translate(425.60 577.20) rotate(-46.5) scale(0.92 1)" font-size="11.8" text-anchor="end" fill="#2b2522">DDX5-2</text>
<text transform="translate(446.60 578.60) rotate(-46.5) scale(0.92 1)" font-size="11.8" text-anchor="end" fill="#2b2522">Control</text>
<text transform="translate(470.60 576.50) rotate(-46.5) scale(0.92 1)" font-size="11.8" text-anchor="end" fill="#2b2522">DDX5-1</text>
<text transform="translate(494.60 576.20) rotate(-46.5) scale(0.92 1)" font-size="11.8" text-anchor="end" fill="#2b2522">DDX5-2</text>
<line x1="431.60" y1="609.50" x2="502.40" y2="609.50" stroke="#332e2c" stroke-width="0.9"/>
<text transform="translate(468.20 624.00)" font-size="11.8" text-anchor="middle" fill="#2b2522" textLength="56" lengthAdjust="spacingAndGlyphs">FLAG-E2F1</text>
<rect x="155.95" y="797.59" width="7.50" height="3.81" fill="#7f7f7f" stroke="#585858" stroke-width="0.7"/>
<rect x="180.25" y="793.00" width="7.50" height="8.40" fill="#7f7f7f" stroke="#585858" stroke-width="0.7"/>
<rect x="204.65" y="796.94" width="7.50" height="4.46" fill="#7f7f7f" stroke="#585858" stroke-width="0.7"/>
<rect x="228.55" y="731.75" width="7.50" height="69.65" fill="#7f7f7f" stroke="#585858" stroke-width="0.7"/>
<rect x="252.85" y="721.69" width="7.50" height="79.71" fill="#7f7f7f" stroke="#585858" stroke-width="0.7"/>
<rect x="277.05" y="726.94" width="7.50" height="74.46" fill="#7f7f7f" stroke="#585858" stroke-width="0.7"/>
<line x1="148.50" y1="713.50" x2="148.50" y2="801.90" stroke="#332e2c" stroke-width="1.1"/>
<line x1="147.50" y1="801.50" x2="293.00" y2="801.50" stroke="#332e2c" stroke-width="1.1"/>
<line x1="144.20" y1="801.50" x2="148.00" y2="801.50" stroke="#332e2c" stroke-width="1.0"/>
<text transform="translate(143.20 804.86) scale(1.0 1)" font-size="9.6" text-anchor="end" fill="#2b2522">0</text>
<line x1="144.20" y1="792.50" x2="148.00" y2="792.50" stroke="#332e2c" stroke-width="1.0"/>
<text transform="translate(143.20 796.11) scale(1.0 1)" font-size="9.6" text-anchor="end" fill="#2b2522">2</text>
<line x1="144.20" y1="783.50" x2="148.00" y2="783.50" stroke="#332e2c" stroke-width="1.0"/>
<text transform="translate(143.20 787.36) scale(1.0 1)" font-size="9.6" text-anchor="end" fill="#2b2522">4</text>
<line x1="144.20" y1="775.50" x2="148.00" y2="775.50" stroke="#332e2c" stroke-width="1.0"/>
<text transform="translate(143.20 778.61) scale(1.0 1)" font-size="9.6" text-anchor="end" fill="#2b2522">6</text>
<line x1="144.20" y1="766.50" x2="148.00" y2="766.50" stroke="#332e2c" stroke-width="1.0"/>
<text transform="translate(143.20 769.86) scale(1.0 1)" font-size="9.6" text-anchor="end" fill="#2b2522">8</text>
<line x1="144.20" y1="757.50" x2="148.00" y2="757.50" stroke="#332e2c" stroke-width="1.0"/>
<text transform="translate(143.20 761.11) scale(1.0 1)" font-size="9.6" text-anchor="end" fill="#2b2522">10</text>
<line x1="144.20" y1="748.50" x2="148.00" y2="748.50" stroke="#332e2c" stroke-width="1.0"/>
<text transform="translate(143.20 752.36) scale(1.0 1)" font-size="9.6" text-anchor="end" fill="#2b2522">12</text>
<line x1="144.20" y1="740.50" x2="148.00" y2="740.50" stroke="#332e2c" stroke-width="1.0"/>
<text transform="translate(143.20 743.61) scale(1.0 1)" font-size="9.6" text-anchor="end" fill="#2b2522">14</text>
<line x1="144.20" y1="731.50" x2="148.00" y2="731.50" stroke="#332e2c" stroke-width="1.0"/>
<text transform="translate(143.20 734.86) scale(1.0 1)" font-size="9.6" text-anchor="end" fill="#2b2522">16</text>
<line x1="144.20" y1="722.50" x2="148.00" y2="722.50" stroke="#332e2c" stroke-width="1.0"/>
<text transform="translate(143.20 726.11) scale(1.0 1)" font-size="9.6" text-anchor="end" fill="#2b2522">18</text>
<line x1="144.20" y1="713.50" x2="148.00" y2="713.50" stroke="#332e2c" stroke-width="1.0"/>
<text transform="translate(143.20 717.36) scale(1.0 1)" font-size="9.6" text-anchor="end" fill="#2b2522">20</text>
<polyline points="160.50,793.50 160.50,778.50 208.50,778.50 208.50,792.50" fill="none" stroke="#332e2c" stroke-width="0.8"/>
<polyline points="160.50,783.50 183.50,783.50 183.50,789.50" fill="none" stroke="#332e2c" stroke-width="0.8"/>
<text transform="translate(184.20 777.80)" font-size="6" text-anchor="middle" fill="#2b2522" font-weight="bold">***</text>
<text transform="translate(171.40 783.60)" font-size="6" text-anchor="middle" fill="#2b2522" font-weight="bold">***</text>
<text transform="translate(114.00 755.00) rotate(-90)" font-size="10.8" text-anchor="middle" fill="#2b2522" textLength="112" lengthAdjust="spacingAndGlyphs" style="stroke-width:0.18px">% population of cells</text>
<text transform="translate(125.20 754.50) rotate(-90)" font-size="10.8" text-anchor="middle" fill="#2b2522" textLength="120.2" lengthAdjust="spacingAndGlyphs" style="stroke-width:0.18px">in subG1 DNA content</text>
<text transform="translate(103.00 831.00)" font-size="11.6" text-anchor="start" fill="#2b2522" textLength="33.6" lengthAdjust="spacingAndGlyphs">shRNA</text>
<text transform="translate(170.00 813.00) rotate(-46.5) scale(0.92 1)" font-size="11.8" text-anchor="end" fill="#2b2522">Control</text>
<text transform="translate(194.60 811.60) rotate(-46.5) scale(0.92 1)" font-size="11.8" text-anchor="end" fill="#2b2522">DDX5-1</text>
<text transform="translate(221.60 810.80) rotate(-46.5) scale(0.92 1)" font-size="11.8" text-anchor="end" fill="#2b2522">DDX5-2</text>
<text transform="translate(245.00 812.60) rotate(-46.5) scale(0.92 1)" font-size="11.8" text-anchor="end" fill="#2b2522">Control</text>
<text transform="translate(269.40 810.80) rotate(-46.5) scale(0.92 1)" font-size="11.8" text-anchor="end" fill="#2b2522">DDX5-1</text>
<text transform="translate(293.60 810.80) rotate(-46.5) scale(0.92 1)" font-size="11.8" text-anchor="end" fill="#2b2522">DDX5-2</text>
<line x1="223.60" y1="844.50" x2="294.40" y2="844.50" stroke="#332e2c" stroke-width="0.9"/>
<text transform="translate(260.20 859.00)" font-size="11.8" text-anchor="middle" fill="#2b2522" textLength="56" lengthAdjust="spacingAndGlyphs">FLAG-E2F1</text>
<line x1="423.50" y1="721.96" x2="423.50" y2="721.41" stroke="#8a8a8a" stroke-width="0.8"/>
<rect x="416.15" y="722.31" width="14.70" height="88.29" fill="#7f7f7f" stroke="#585858" stroke-width="0.7"/>
<rect x="464.95" y="760.26" width="14.70" height="50.34" fill="#7f7f7f" stroke="#585858" stroke-width="0.7"/>
<rect x="513.95" y="730.34" width="14.70" height="80.26" fill="#7f7f7f" stroke="#585858" stroke-width="0.7"/>
<line x1="399.50" y1="710.50" x2="399.50" y2="811.10" stroke="#332e2c" stroke-width="1.1"/>
<line x1="398.50" y1="810.50" x2="546.00" y2="810.50" stroke="#332e2c" stroke-width="1.1"/>
<line x1="395.20" y1="810.50" x2="399.00" y2="810.50" stroke="#332e2c" stroke-width="1.0"/>
<text transform="translate(395.20 814.20) scale(1.0 1)" font-size="10" text-anchor="end" fill="#2b2522">0</text>
<line x1="395.20" y1="799.50" x2="399.00" y2="799.50" stroke="#332e2c" stroke-width="1.0"/>
<text transform="translate(395.20 803.12) scale(1.0 1)" font-size="10" text-anchor="end" fill="#2b2522">2</text>
<line x1="395.20" y1="788.50" x2="399.00" y2="788.50" stroke="#332e2c" stroke-width="1.0"/>
<text transform="translate(395.20 792.04) scale(1.0 1)" font-size="10" text-anchor="end" fill="#2b2522">4</text>
<line x1="395.20" y1="777.50" x2="399.00" y2="777.50" stroke="#332e2c" stroke-width="1.0"/>
<text transform="translate(395.20 780.96) scale(1.0 1)" font-size="10" text-anchor="end" fill="#2b2522">6</text>
<line x1="395.20" y1="766.50" x2="399.00" y2="766.50" stroke="#332e2c" stroke-width="1.0"/>
<text transform="translate(395.20 769.88) scale(1.0 1)" font-size="10" text-anchor="end" fill="#2b2522">8</text>
<line x1="395.20" y1="755.50" x2="399.00" y2="755.50" stroke="#332e2c" stroke-width="1.0"/>
<text transform="translate(395.20 758.80) scale(1.0 1)" font-size="10" text-anchor="end" fill="#2b2522">10</text>
<line x1="395.20" y1="744.50" x2="399.00" y2="744.50" stroke="#332e2c" stroke-width="1.0"/>
<text transform="translate(395.20 747.72) scale(1.0 1)" font-size="10" text-anchor="end" fill="#2b2522">12</text>
<line x1="395.20" y1="733.50" x2="399.00" y2="733.50" stroke="#332e2c" stroke-width="1.0"/>
<text transform="translate(395.20 736.64) scale(1.0 1)" font-size="10" text-anchor="end" fill="#2b2522">14</text>
<line x1="395.20" y1="721.50" x2="399.00" y2="721.50" stroke="#332e2c" stroke-width="1.0"/>
<text transform="translate(395.20 725.56) scale(1.0 1)" font-size="10" text-anchor="end" fill="#2b2522">16</text>
<line x1="395.20" y1="710.50" x2="399.00" y2="710.50" stroke="#332e2c" stroke-width="1.0"/>
<text transform="translate(395.20 714.48) scale(1.0 1)" font-size="10" text-anchor="end" fill="#2b2522">18</text>
<polyline points="423.50,716.50 423.50,698.50 521.50,698.50 521.50,726.50" fill="none" stroke="#332e2c" stroke-width="0.8"/>
<polyline points="423.50,711.50 472.50,711.50 472.50,755.50" fill="none" stroke="#332e2c" stroke-width="0.8"/>
<text transform="translate(473.00 698.20)" font-size="6" text-anchor="middle" fill="#2b2522" font-weight="bold">***</text>
<text transform="translate(449.40 711.20)" font-size="6" text-anchor="middle" fill="#2b2522" font-weight="bold">***</text>
<text transform="translate(348.20 761.30) rotate(-90)" font-size="10.8" text-anchor="middle" fill="#2b2522" textLength="110.6" lengthAdjust="spacingAndGlyphs" style="stroke-width:0.18px">% population of cells</text>
<text transform="translate(359.40 760.50) rotate(-90)" font-size="10.8" text-anchor="middle" fill="#2b2522" textLength="121" lengthAdjust="spacingAndGlyphs" style="stroke-width:0.18px">in subG1 DNA content</text>
<text transform="translate(371.20 758.00) rotate(-90)" font-size="10.8" text-anchor="middle" fill="#2b2522" textLength="132" lengthAdjust="spacingAndGlyphs" style="stroke-width:0.18px">(Fold induction by E2F1)</text>
<text transform="translate(360.00 840.00)" font-size="11.6" text-anchor="start" fill="#2b2522" textLength="33.6" lengthAdjust="spacingAndGlyphs">shRNA</text>
<text transform="translate(431.00 821.20) rotate(-46) scale(0.92 1)" font-size="11.8" text-anchor="end" fill="#2b2522">Control</text>
<text transform="translate(480.70 820.50) rotate(-46) scale(0.92 1)" font-size="11.8" text-anchor="end" fill="#2b2522">DDX5-1</text>
<text transform="translate(529.30 820.50) rotate(-46) scale(0.92 1)" font-size="11.8" text-anchor="end" fill="#2b2522">DDX5-2</text>
</svg>
</body>
</html>
